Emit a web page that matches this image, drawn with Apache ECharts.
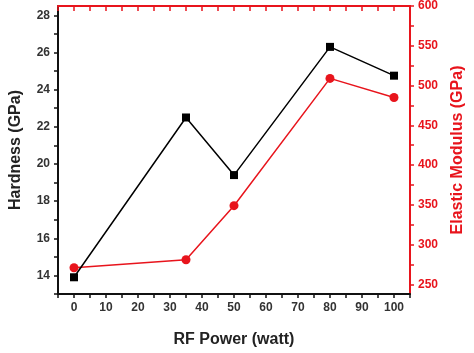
<!DOCTYPE html>
<html>
<head>
<meta charset="utf-8">
<script src="https://cdn.jsdelivr.net/npm/echarts@6/dist/echarts.min.js"></script>
<style>
  html, body { margin: 0; padding: 0; background: #fff; }
</style>
</head>
<body>
<div id="chart" style="width: 474px; height: 353px"></div>
<script>
// RF power (watt)
var power = [0, 35, 50, 80, 100]
// hardness (GPa), left axis
var hardness = [13.9, 22.5, 19.4, 26.3, 24.75]
// elastic modulus (GPa), right axis
var modulus = [271, 281, 349, 509, 485]
var hardnessLabels = [14, 16, 18, 20, 22, 24, 26, 28]
var hardnessTicks = [13, 14, 15, 16, 17, 18, 19, 20, 21, 22, 23, 24, 25, 26, 27, 28]
var modulusLabels = [250, 300, 350, 400, 450, 500, 550, 600]
var modulusTicks = [250, 275, 300, 325, 350, 375, 400, 425, 450, 475, 500, 525, 550, 575, 600]

var font = 'Liberation Sans, Arial, sans-serif'
var RED = '#e8141c'

function pairs(xs, ys) {
  return xs.map(function (x, i) { return [x, ys[i]] })
}

var myChart = echarts.init(document.getElementById('chart'))
myChart.setOption({
  animation: false,
  grid: {
    left: 52,
    right: 55,
    top: 6,
    bottom: 50
  },
  xAxis: [
    {
      type: 'value',
      min: -5,
      max: 105,
      interval: 5,
      name: 'RF Power (watt)',
      nameLocation: 'middle',
      nameGap: 38,
      nameTextStyle: { color: '#222', fontFamily: font, fontSize: 16, fontWeight: 'bold' },
      splitLine: { show: false },
      axisLine: { onZero: false, lineStyle: { color: '#111', width: 2 } },
      axisTick: { length: 4, lineStyle: { color: '#111', width: 1.5 } },
      axisLabel: {
        color: '#333',
        fontFamily: font,
        fontSize: 12,
        fontWeight: 'bold',
        margin: 8,
        formatter: function (v) { return v % 10 === 0 && v >= 0 && v <= 100 ? v : '' }
      }
    },
    {
      type: 'value',
      position: 'top',
      min: -5,
      max: 105,
      interval: 5,
      splitLine: { show: false },
      axisLine: { onZero: false, lineStyle: { color: RED, width: 2 } },
      axisTick: { inside: true, length: 5, lineStyle: { color: RED, width: 1.5 } },
      axisLabel: { show: false }
    }
  ],
  yAxis: [
    {
      type: 'value',
      position: 'left',
      min: 13,
      max: 28.5,
      name: 'Hardness (GPa)',
      nameLocation: 'middle',
      nameGap: 34,
      nameTextStyle: { color: '#222', fontFamily: font, fontSize: 16, fontWeight: 'bold' },
      splitLine: { show: false },
      axisLine: { show: true, onZero: false, lineStyle: { color: '#111', width: 2 } },
      axisTick: { show: true, length: 4, customValues: hardnessTicks, lineStyle: { color: '#111', width: 1.5 } },
      axisLabel: {
        color: '#333',
        fontFamily: font,
        fontSize: 12,
        fontWeight: 'bold',
        margin: 8,
        customValues: hardnessLabels
      }
    },
    {
      type: 'value',
      position: 'right',
      min: 238,
      max: 600,
      name: 'Elastic Modulus (GPa)',
      nameLocation: 'middle',
      nameGap: 40,
      nameTextStyle: { color: RED, fontFamily: font, fontSize: 16, fontWeight: 'bold' },
      splitLine: { show: false },
      axisLine: { show: true, onZero: false, lineStyle: { color: RED, width: 2 } },
      axisTick: { show: true, length: 4, customValues: modulusTicks, lineStyle: { color: RED, width: 1.5 } },
      axisLabel: {
        color: RED,
        fontFamily: font,
        fontSize: 12,
        fontWeight: 'bold',
        margin: 8,
        customValues: modulusLabels
      }
    }
  ],
  series: [
    {
      name: 'Hardness',
      type: 'line',
      xAxisIndex: 0,
      yAxisIndex: 0,
      data: pairs(power, hardness),
      symbol: 'rect',
      symbolSize: 8,
      itemStyle: { color: '#000' },
      lineStyle: { color: '#000', width: 1.5 },
      z: 3
    },
    {
      name: 'Elastic Modulus',
      type: 'line',
      xAxisIndex: 0,
      yAxisIndex: 1,
      data: pairs(power, modulus),
      symbol: 'circle',
      symbolSize: 9,
      itemStyle: { color: RED },
      lineStyle: { color: RED, width: 1.5 },
      z: 2
    }
  ]
})
</script>
</body>
</html>
